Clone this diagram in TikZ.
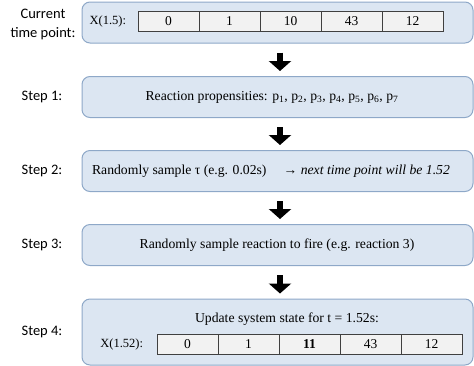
\documentclass[tikz,border=0pt]{standalone}
\usepackage{fontspec}
\setmainfont{Liberation Serif}
\newfontfamily\labelfont{Carlito}
\usetikzlibrary{positioning,arrows.meta}

\definecolor{boxfill}{HTML}{DCE6F2}
\definecolor{boxline}{HTML}{8EA8C8}
\definecolor{cellfill}{HTML}{F2F2F2}
\definecolor{cellline}{HTML}{404040}

\tikzset{
  stepbox/.style={draw=boxline, fill=boxfill, line width=1pt, rounded corners=8pt,
    minimum width=391pt, minimum height=41pt, inner sep=0pt},
  cell/.style={draw=cellline, fill=cellfill, line width=0.8pt, inner sep=0pt,
    minimum width=61pt, minimum height=20pt, font=\fontsize{13.5}{15}\selectfont},
  steplabel/.style={font=\labelfont\fontsize{14.5}{19}\selectfont, align=center},
  boxtext/.style={font=\fontsize{13.7}{16}\selectfont},
  xlabel/.style={font=\fontsize{12.5}{15}\selectfont},
  bigarrow/.style={line width=6pt, -{Triangle[width=22pt,length=10pt]}},
}

\begin{document}
\begin{tikzpicture}[x=1pt,y=-1pt]
\useasboundingbox (0,0) rectangle (474,365);

% 1. The five rounded boxes
\node[stepbox] (cur) at (277.5,22.5) {};
\node[stepbox] (s1) at (277.5,97) {};
\node[stepbox] (s2) at (277.5,171) {};
\node[stepbox] (s3) at (277.5,245) {};
\node[stepbox, minimum height=66pt] (s4) at (277.5,332) {};

% 2. Labels on the left
\node[steplabel] (curlab) at (43,24.5) {Current\\time point:};
\node[steplabel] (s1lab) at (42,97) {Step 1:};
\node[steplabel] (s2lab) at (42,171) {Step 2:};
\node[steplabel] (s3lab) at (42,245) {Step 3:};
\node[steplabel] (s4lab) at (42,332) {Step 4:};

% 3. State at the current time point
\foreach \v [count=\i] in {0,1,10,43,12}
  \node[cell] (xa\i) at (138+61*\i-30.5,21.5) {\v};
\node[xlabel, left=8pt of xa1] (xalab) {X(1.5):};

% 4. Text of steps 1 to 3
\node[boxtext] (s1txt) at (272,97) {Reaction propensities: p\textsubscript{1}, p\textsubscript{2}, p\textsubscript{3}, p\textsubscript{4}, p\textsubscript{5}, p\textsubscript{6}, p\textsubscript{7}};
\node[boxtext] (s2txt) at (271,171) {Randomly sample τ (e.g. 0.02s) \quad → \textit{next time point will be 1.52}};
\node[boxtext] (s3txt) at (277,245) {Randomly sample reaction to fire (e.g. reaction 3)};

% 5. Step 4: updated state
\node[boxtext] (s4txt) at (287,319) {Update system state for t = 1.52s:};
\foreach \v [count=\i] in {0,1,\textbf{11},43,12}
  \node[cell] (xb\i) at (157+61*\i-30.5,344.5) {\v};
\node[xlabel, left=10pt of xb1] (xblab) {X(1.52):};

% 6. Block arrows between the boxes
\draw[bigarrow] ([xshift=2.5pt,yshift=-9pt]cur.south) -- ([xshift=2.5pt,yshift=5pt]s1.north);
\draw[bigarrow] ([xshift=2.5pt,yshift=-9pt]s1.south) -- ([xshift=2.5pt,yshift=5pt]s2.north);
\draw[bigarrow] ([xshift=2.5pt,yshift=-9pt]s2.south) -- ([xshift=2.5pt,yshift=5pt]s3.north);
\draw[bigarrow] ([xshift=2.5pt,yshift=-9pt]s3.south) -- ([xshift=2.5pt,yshift=5pt]s4.north);

\end{tikzpicture}
\end{document}
